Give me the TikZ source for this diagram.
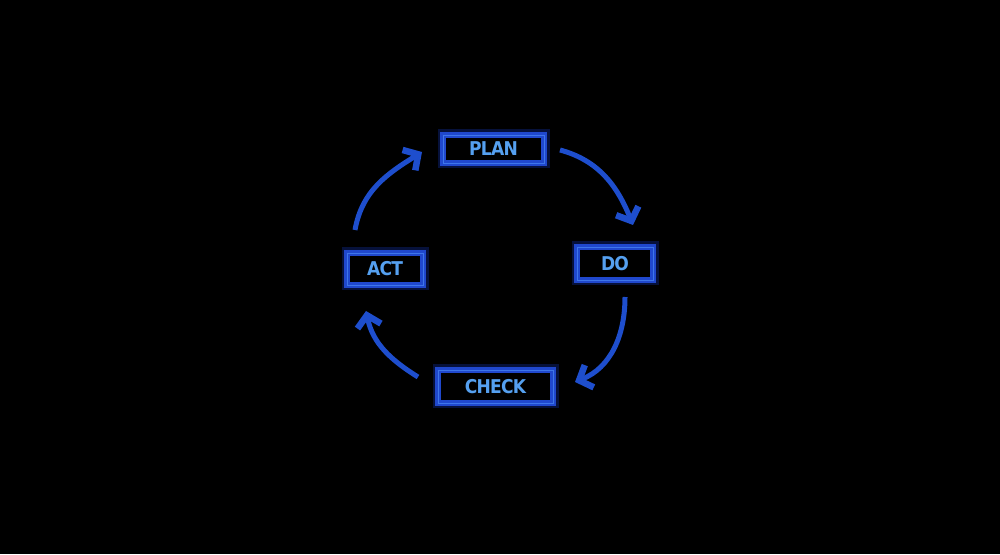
\documentclass[tikz,border=0pt]{standalone}
\usepackage{fontspec}
\newfontfamily\boxfont[LetterSpace=-4]{DejaVu Sans Condensed}
\usetikzlibrary{arrows.meta}
\definecolor{frameblue}{RGB}{32,72,205}
\definecolor{framelight}{RGB}{70,130,240}
\definecolor{glowblue}{RGB}{20,50,170}
\definecolor{textblue}{RGB}{85,160,240}
\definecolor{arrowblue}{RGB}{30,78,205}
\tikzset{
  stagebox/.style={draw=frameblue, line width=6pt, fill=black,
    inner sep=0pt, text=textblue, font=\boxfont\bfseries\fontsize{19}{19}\selectfont,
    preaction={draw=glowblue, line width=11pt, opacity=0.35},
    postaction={draw=framelight, line width=0.8pt, opacity=0.8}},
  cyclearrow/.style={draw=arrowblue, line width=5pt,
    -{Straight Barb[length=11pt 0,width=24pt 0,line width=6.5pt,line join=miter]}}
}
\begin{document}
\begin{tikzpicture}[x=1pt,y=1pt]
\fill[black] (0,0) rectangle (1000,554);
\useasboundingbox (0,0) rectangle (1000,554);
\node[stagebox, minimum width=101pt, minimum height=28pt] (plan) at (493.5,405) {PLAN};
\node[stagebox, minimum width=76pt, minimum height=33pt] (do) at (615,290.5) {DO};
\node[stagebox, minimum width=76pt, minimum height=32pt] (act) at (385,285) {ACT};
\node[stagebox, minimum width=115pt, minimum height=33pt] (check) at (495.5,167.5) {CHECK};
\coordinate (actout) at (355,324);
\coordinate (planin) at (422,402);
\coordinate (planout) at (560,404);
\coordinate (doin) at (633,329);
\coordinate (doout) at (625,257);
\coordinate (checkin) at (575,172);
\coordinate (checkout) at (418,177);
\coordinate (actin) at (366,243);
\draw[cyclearrow] (actout) to[out=80,in=212] (planin);
\draw[cyclearrow] (planout) to[out=-15,in=112] (doin);
\draw[cyclearrow] (doout) to[out=-90,in=22] (checkin);
\draw[cyclearrow] (checkout) to[out=148,in=-78] (actin);
\end{tikzpicture}
\end{document}
